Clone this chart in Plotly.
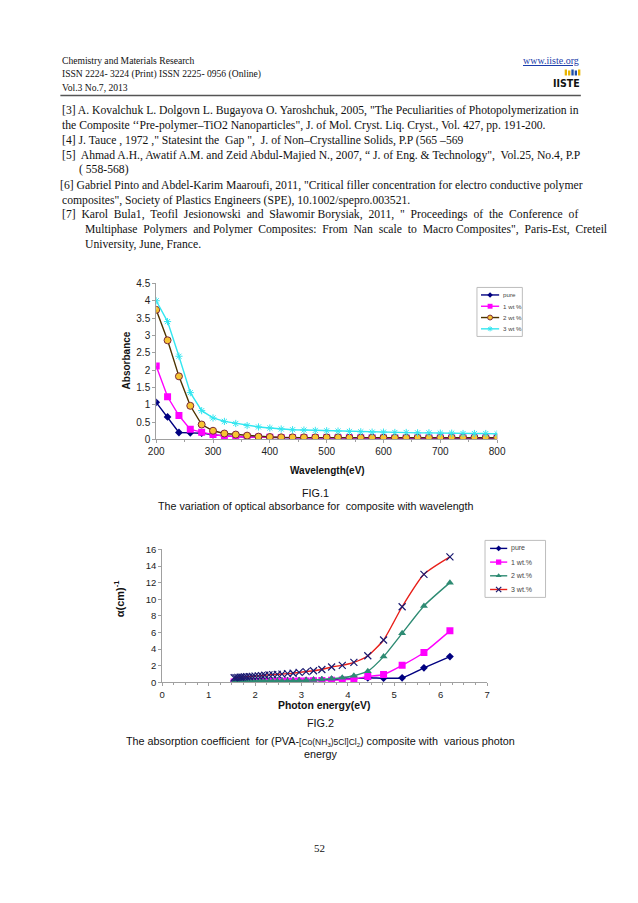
import plotly.graph_objects as go

W, H = 638, 903

# ---------------- data ----------------
wavelength = [200, 220, 240, 260, 280, 300, 320, 340, 360, 380, 400, 420, 440, 460, 480, 500,
              520, 540, 560, 580, 600, 620, 640, 660, 680, 700, 720, 740, 760, 780, 800]
abs_pure = [1.07, 0.65, 0.20, 0.19, 0.18, 0.13, 0.10, 0.08, 0.07, 0.06, 0.05, 0.05, 0.05, 0.05, 0.05, 0.05,
            0.04, 0.04, 0.04, 0.04, 0.04, 0.04, 0.04, 0.04, 0.04, 0.04, 0.04, 0.03, 0.03, 0.03, 0.03]
abs_1wt = [2.12, 1.23, 0.69, 0.29, 0.21, 0.14, 0.10, 0.08, 0.07, 0.06, 0.06, 0.05, 0.05, 0.05, 0.05, 0.05,
           0.05, 0.05, 0.05, 0.05, 0.04, 0.04, 0.04, 0.04, 0.04, 0.04, 0.04, 0.04, 0.04, 0.04, 0.04]
abs_2wt = [3.74, 2.86, 1.82, 0.97, 0.43, 0.25, 0.17, 0.14, 0.11, 0.08, 0.07, 0.06, 0.06, 0.06, 0.06, 0.06,
           0.06, 0.05, 0.05, 0.05, 0.05, 0.05, 0.05, 0.05, 0.05, 0.05, 0.05, 0.05, 0.05, 0.05, 0.05]
abs_3wt = [4.00, 3.40, 2.40, 1.35, 0.83, 0.62, 0.52, 0.46, 0.40, 0.36, 0.33, 0.30, 0.28, 0.27, 0.26, 0.25,
           0.24, 0.23, 0.22, 0.21, 0.21, 0.20, 0.20, 0.19, 0.19, 0.18, 0.18, 0.17, 0.17, 0.17, 0.16]
abs_names = ["pure", "1 wt %", "2 wt %", "3 wt %"]

energy = [6.20, 5.64, 5.17, 4.77, 4.43, 4.13, 3.88, 3.65, 3.44, 3.26, 3.10, 2.95, 2.82, 2.70, 2.58, 2.48,
          2.38, 2.30, 2.21, 2.14, 2.07, 2.00, 1.94, 1.88, 1.82, 1.77, 1.72, 1.68, 1.63, 1.59, 1.55]
alpha_pure = [3.1, 1.75, 0.55, 0.5, 0.55, 0.45, 0.4, 0.35, 0.3, 0.28, 0.25, 0.22, 0.2, 0.2, 0.18, 0.17,
              0.16, 0.15, 0.15, 0.14, 0.13, 0.13, 0.12, 0.12, 0.11, 0.11, 0.1, 0.1, 0.1, 0.1, 0.1]
alpha_1wt = [6.2, 3.6, 2.05, 0.95, 0.7, 0.4, 0.3, 0.25, 0.22, 0.2, 0.18, 0.16, 0.15, 0.14, 0.13, 0.12,
             0.11, 0.1, 0.1, 0.09, 0.09, 0.08, 0.08, 0.07, 0.07, 0.07, 0.06, 0.06, 0.06, 0.05, 0.05]
alpha_2wt = [12.0, 9.2, 5.9, 3.1, 1.35, 0.8, 0.55, 0.45, 0.35, 0.3, 0.25, 0.22, 0.2, 0.18, 0.17, 0.16,
             0.15, 0.14, 0.13, 0.13, 0.12, 0.12, 0.11, 0.11, 0.1, 0.1, 0.1, 0.1, 0.1, 0.1, 0.1]
alpha_3wt = [15.1, 13.0, 9.1, 5.1, 3.2, 2.4, 2.05, 1.85, 1.55, 1.4, 1.3, 1.2, 1.1, 1.05, 1.0, 0.97,
             0.93, 0.9, 0.86, 0.82, 0.79, 0.76, 0.73, 0.7, 0.68, 0.66, 0.64, 0.62, 0.6, 0.58, 0.56]
alpha_names = ["pure", "1 wt.%", "2 wt.%", "3 wt.%"]

header_left = ["Chemistry and Materials Research",
               "ISSN 2224- 3224 (Print) ISSN 2225- 0956 (Online)",
               "Vol.3 No.7, 2013"]
# (text, left x, centre y, extra spaces for justification)
references = [
    ("[3] A. Kovalchuk L. Dolgovn L. Bugayova O. Yaroshchuk, 2005, \"The Peculiarities of Photopolymerization in", 62, 110, 0),
    ("the Composite \u2018\u2018Pre-polymer\u2013TiO2 Nanoparticles\", J. of Mol. Cryst. Liq. Cryst., Vol. 427, pp. 191-200.", 62, 125, 0),
    ("[4] J. Tauce , 1972 ,\" Statesint the  Gap \",  J. of Non\u2013Crystalline Solids, P.P (565 \u2013569", 62, 140, 0),
    ("[5]  Ahmad A.H., Awatif A.M. and Zeid Abdul-Majied N., 2007, \u201c J. of Eng. &amp; Technology\",  Vol.25, No.4, P.P", 62, 155, 0),
    ("( 558-568)", 78, 169, 0),
    ("[6] Gabriel Pinto and Abdel-Karim Maaroufi, 2011, \"Critical filler concentration for electro conductive polymer", 60, 185, 0),
    ("composites\", Society of Plastics Engineers (SPE), 10.1002/spepro.003521.", 62, 200, 0),
    ("[7] Karol Bula1, Teofil Jesionowski and S\u0142awomir Borysiak, 2011, \" Proceedings of the Conference of", 62, 214, 13),
    ("Multiphase Polymers and Polymer Composites: From Nan scale to Macro Composites\", Paris-Est, Creteil", 84, 229, 10),
    ("University, June, France.", 84, 244, 0),
]

# ------------- pixel placement helpers (compensate for the page offset) -------------
def X(p):
    return (p - 18.0) / 0.965

def Y(p):
    return (p - 13.5) / 0.988

def PX(p):
    return X(p) / W

def PY(p):
    return 1 - Y(p) / H

def justify(t, n):
    if n <= 0:
        return t
    words = t.split(" ")
    gaps = len(words) - 1
    out = words[0]
    placed = 0
    for i in range(1, len(words)):
        target = round(i * n / gaps)
        extra = target - placed
        placed = target
        out += " " + "\u00a0" * extra + words[i]
    return out

SANS = "Liberation Sans, Arial, sans-serif"
SERIF = "Liberation Serif, Times New Roman, serif"

fig = go.Figure()

# ---------- chart 1 ----------
styles1 = [
    dict(line=dict(color="#000080", width=1.4), marker=dict(symbol="diamond", size=6, color="#000080")),
    dict(line=dict(color="#FF00FF", width=1.4), marker=dict(symbol="square", size=7, color="#FF00FF")),
    dict(line=dict(color="#4d3300", width=1.4), marker=dict(symbol="circle", size=7, color="#F7C531",
                                                            line=dict(color="#7a2a3a", width=1))),
    dict(line=dict(color="#33E6F0", width=1.4), marker=dict(symbol="asterisk-open", size=6, color="#33E6F0",
                                                            line=dict(color="#33E6F0", width=1))),
]
for vals, name, st in zip([abs_pure, abs_1wt, abs_2wt, abs_3wt], abs_names, styles1):
    fig.add_trace(go.Scatter(x=wavelength, y=vals, name=name, mode="lines+markers",
                             line=st["line"], marker=st["marker"], xaxis="x", yaxis="y",
                             showlegend=False))

# ---------- chart 2 ----------
styles2 = [
    dict(line=dict(color="#000080", width=1.4, shape="spline", smoothing=0.6),
         marker=dict(symbol="diamond", size=6, color="#000080")),
    dict(line=dict(color="#FF00FF", width=1.4, shape="spline", smoothing=0.6),
         marker=dict(symbol="square", size=7, color="#FF00FF")),
    dict(line=dict(color="#2E8B73", width=1.4, shape="spline", smoothing=0.6),
         marker=dict(symbol="triangle-up", size=7, color="#2E8B73")),
    dict(line=dict(color="#E8201A", width=1.4, shape="spline", smoothing=0.6),
         marker=dict(symbol="x-thin-open", size=7, color="#1a1a70", line=dict(color="#1a1a70", width=1.2))),
]
for vals, name, st in zip([alpha_pure, alpha_1wt, alpha_2wt, alpha_3wt], alpha_names, styles2):
    fig.add_trace(go.Scatter(x=energy, y=vals, name=name, mode="lines+markers",
                             line=st["line"], marker=st["marker"], xaxis="x2", yaxis="y2",
                             showlegend=False))

# ---------- compact legends drawn on a pixel overlay axis ----------
ann = []
shapes = []

def text(t, x, y, size, family=SERIF, color="#111", xanchor="left", angle=0, bold=False):
    if bold:
        t = "<b>" + t + "</b>"
    ann.append(dict(text=t, x=PX(x), y=PY(y), xref="paper", yref="paper", showarrow=False,
                    xanchor=xanchor, yanchor="middle", textangle=angle,
                    font=dict(family=family, size=size, color=color)))

def legend_box(names, styles, box, row0, step, lx0, lx1, tx, fsize, msize_scale):
    x0, y0, x1, y1 = box
    shapes.append(dict(type="rect", xref="paper", yref="paper", x0=PX(x0), x1=PX(x1),
                       y0=PY(y0), y1=PY(y1), line=dict(color="#bdbdbd", width=1),
                       fillcolor="rgba(255,255,255,0)"))
    for i, (nm, st) in enumerate(zip(names, styles)):
        yy = Y(row0 + i * step)
        ln = dict(st["line"])
        ln.pop("shape", None)
        ln.pop("smoothing", None)
        fig.add_trace(go.Scatter(x=[X(lx0), X(lx1)], y=[yy, yy], mode="lines", line=ln,
                                 xaxis="x3", yaxis="y3", showlegend=False, hoverinfo="skip"))
        mk = dict(st["marker"])
        mk["size"] = max(3, mk["size"] * msize_scale)
        fig.add_trace(go.Scatter(x=[X((lx0 + lx1) / 2)], y=[yy], mode="markers", marker=mk,
                                 xaxis="x3", yaxis="y3", showlegend=False, hoverinfo="skip"))
        text(nm, tx, row0 + i * step, fsize, family=SANS, color="#444")

legend_box(abs_names, styles1, (475, 287, 520, 336), 294.5, 11.3, 479, 497, 499, 6.2, 0.7)
legend_box(alpha_names, styles2, (483, 540, 543, 597), 548, 13.7, 488, 505, 507, 7, 0.75)

axis_common = dict(showgrid=False, zeroline=False, showline=True, linecolor="#a0a0a0", linewidth=1,
                   ticks="outside", ticklen=3, tickcolor="#a0a0a0",
                   tickfont=dict(family=SANS, size=10, color="#222"))

fig.update_layout(
    width=W, height=H, margin=dict(l=0, r=0, t=0, b=0),
    paper_bgcolor="white", plot_bgcolor="rgba(0,0,0,0)", showlegend=False,
    xaxis=dict(domain=[PX(157), PX(495)], range=[200, 800], dtick=100, anchor="y",
               minor=dict(ticks="outside", ticklen=2, dtick=50, tickcolor="#a0a0a0"),
               **axis_common),
    yaxis=dict(domain=[PY(439), PY(283)], range=[0, 4.5], dtick=0.5, anchor="x", **axis_common),
    xaxis2=dict(domain=[PX(163), PX(485)], range=[0, 7], dtick=1, anchor="y2",
                minor=dict(ticks="outside", ticklen=2, dtick=0.25, tickcolor="#a0a0a0"),
                **axis_common),
    yaxis2=dict(domain=[PY(682), PY(549)], range=[0, 16], dtick=2, anchor="x2", **axis_common),
    xaxis3=dict(domain=[0, 1], range=[0, W], visible=False, anchor="y3", fixedrange=True),
    yaxis3=dict(domain=[0, 1], range=[H, 0], visible=False, anchor="x3", fixedrange=True),
)
fig.update_layout(xaxis2_tickfont=dict(size=9.5), yaxis2_tickfont=dict(size=9.5))

# header
for i, t in enumerate(header_left):
    text(t, 62, 60 + i * 13.5, 9.6)
text("<u>www.iiste.org</u>", 578, 60, 10, color="#1a3caa", xanchor="right")
text("IISTE", 579, 83, 10.5, family="DejaVu Sans Condensed, Liberation Sans Narrow, sans-serif",
     color="#111", xanchor="right", bold=True)

# references
for t, x, y, n in references:
    text(justify(t, n), x, y, 11.66)

# chart 1 texts
text("Absorbance", 127, 360, 10, family=SANS, xanchor="center", angle=-90, bold=True)
text("Wavelength(eV)", 327, 470, 10, family=SANS, xanchor="center", bold=True)
text("FIG.1", 315, 493, 10.8, family=SANS, xanchor="center")
text("The variation of optical absorbance for  composite with wavelength", 315, 506, 10.7,
     family=SANS, xanchor="center")

# chart 2 texts
text("\u03b1(cm)<sup>-1</sup>", 121, 598, 11, family=SANS, xanchor="center", angle=-90, bold=True)
text("Photon energy(eV)", 323, 705, 10.4, family=SANS, xanchor="center", bold=True)
text("FIG.2", 320, 723, 10.8, family=SANS, xanchor="center")
text("The absorption coefficient  for (PVA-<span style='font-size:8.5px'>[Co(NH<sub>3</sub>)5Cl]Cl<sub>2</sub></span>) composite with  various photon",
     320, 741, 10.8, family=SANS, xanchor="center")
text("energy", 320, 754, 10.8, family=SANS, xanchor="center")

# page number
text("52", 319, 848, 11, xanchor="center")

# header rule and logo bars
shapes.append(dict(type="line", xref="paper", yref="paper", x0=PX(62), x1=PX(578), y0=PY(95), y1=PY(95),
                   line=dict(color="#555", width=1.5)))
logo_colors = ["#e8b400", "#e8b400", "#1f4fa8", "#1f4fa8", "#e8b400"]
for i, c in enumerate(logo_colors):
    shapes.append(dict(type="rect", xref="paper", yref="paper",
                       x0=PX(562 + i * 3.3), x1=PX(564.3 + i * 3.3), y0=PY(75), y1=PY(69 + (i % 2)),
                       line=dict(width=0), fillcolor=c))

fig.update_layout(annotations=ann, shapes=shapes)

fig.write_html("out.html")
